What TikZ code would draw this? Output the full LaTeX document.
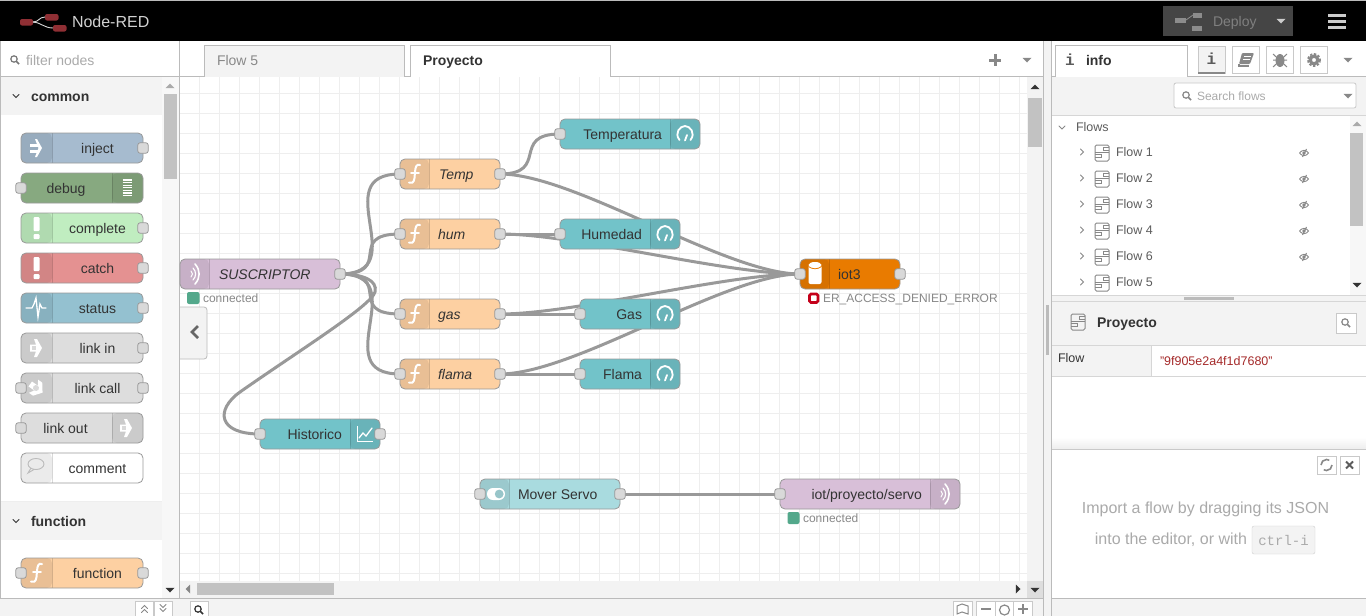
\documentclass[tikz,border=0pt]{standalone}
\usepackage{fontspec}
\setmainfont{Liberation Sans}
\setmonofont{Liberation Mono}
\usetikzlibrary{positioning}
\usetikzlibrary{backgrounds}

\definecolor{panelgrey}{HTML}{F3F3F3}
\definecolor{edgegrey}{HTML}{BBBBBB}
\definecolor{gridgrey}{HTML}{EEEEEE}
\definecolor{wiregrey}{HTML}{999999}
\definecolor{nodeedge}{HTML}{999999}
\definecolor{portgrey}{HTML}{D9D9D9}
\definecolor{thumbgrey}{HTML}{C2C2C2}
\definecolor{mutedtext}{HTML}{AAAAAA}
\definecolor{labeltext}{HTML}{333333}
\definecolor{statustext}{HTML}{888888}
\definecolor{mqttpurple}{HTML}{D8BFD8}
\definecolor{fnorange}{HTML}{FDD0A2}
\definecolor{dashteal}{HTML}{72C3C9}
\definecolor{switchteal}{HTML}{A9DBDF}
\definecolor{dborange}{HTML}{E97B00}
\definecolor{injectblue}{HTML}{A6BBCF}
\definecolor{debuggreen}{HTML}{87A980}
\definecolor{completegreen}{HTML}{C0EDC0}
\definecolor{catchred}{HTML}{E49191}
\definecolor{statusblue}{HTML}{94C1D0}
\definecolor{linkgrey}{HTML}{DDDDDD}
\definecolor{okgreen}{HTML}{53A88B}
\definecolor{errred}{HTML}{C4001A}
\definecolor{logored}{HTML}{8F2F34}
\definecolor{valuered}{HTML}{A52A2A}

\tikzset{
    flownode/.style={draw=nodeedge, rounded corners=5, line width=0.8, inner sep=0,
        outer sep=0, minimum height=30, text=labeltext},
    iconleft/.style={path picture={
        \fill[black, opacity=0.08] (path picture bounding box.north west) rectangle
            ([xshift=#1 pt]path picture bounding box.south west);
        \draw[black, opacity=0.15] ([xshift=#1 pt]path picture bounding box.north west) --
            ([xshift=#1 pt]path picture bounding box.south west);}},
    iconright/.style={path picture={
        \fill[black, opacity=0.08] (path picture bounding box.north east) rectangle
            ([xshift=-#1 pt]path picture bounding box.south east);
        \draw[black, opacity=0.15] ([xshift=-#1 pt]path picture bounding box.north east) --
            ([xshift=-#1 pt]path picture bounding box.south east);}},
    port/.style={draw=nodeedge, fill=portgrey, rounded corners=2.5, line width=0.8,
        inner sep=0, outer sep=0, minimum size=10.5},
    wire/.style={draw=wiregrey, line width=3},
    lab/.style={inner sep=0, outer sep=0, text height=12pt, text depth=2pt, text=labeltext,
        font=\fontsize{14}{16}\selectfont},
    small/.style={lab, text height=10pt, text depth=2pt, font=\fontsize{12}{14}\selectfont},
    muted/.style={text=mutedtext},
    heading/.style={lab, font=\fontsize{14}{16}\selectfont\bfseries},
    gridline/.style={draw=gridgrey, line width=0.8},
    button/.style={draw=edgegrey!80, fill=white, line width=0.8, inner sep=0, minimum height=#1},
    whiteline/.style={draw=white, line width=1.6, line cap=round},
    funcicon/.pic={
        \draw[whiteline, line width=2] (5,-9) .. controls (1,-10) and (0.5,-7) .. (0,-2)
            -- (-0.5,4) .. controls (-1,9) and (-4,10) .. (-6,8.5);
        \draw[whiteline] (-4,-1) -- (4,-1);},
    waveicon/.pic={
        \draw[whiteline, line width=1] (-3,-3) .. controls (-1,-1) and (-1,1) .. (-3,3);
        \draw[whiteline, line width=1.2] (-1,-6) .. controls (2.5,-2) and (2.5,2) .. (-1,6);
        \draw[whiteline] (1,-10) .. controls (6.5,-4) and (6.5,4) .. (1,10);},
    gaugeicon/.pic={
        \draw[whiteline, line width=1.8] (-5.5,6) .. controls (-11,-1) and (-5,-8) .. (0,-8)
            .. controls (5,-8) and (11,-1) .. (5.5,6);
        \draw[whiteline, line width=1.8] (0,6.5) -- (2,1);},
    chartpic/.pic={
        \draw[draw=white, line width=1] (-8,-8) -- (-8,7) -- (8,7);
        \draw[whiteline, line width=1.3] (-6,4) -- (-2,-1) -- (1,2) -- (7,-6);},
    dbicon/.pic={
        \fill[white, rounded corners=2] (-6.5,-8) rectangle (6.5,11);
        \fill[white] (0,-8) ellipse[x radius=6.5, y radius=3];
        \draw[dborange, line width=0.8] (-6.5,-6.5) .. controls (-3,-3.5) and (3,-3.5) .. (6.5,-6.5);},
    toggleicon/.pic={
        \fill[white, rounded corners=5.9] (-9,-6) rectangle (9,6);
        \fill[switchteal!90!black] (3.2,0) circle (4.4);},
    injecticon/.pic={
        \fill[white] (-1,-9) -- (1,-9) -- (6,0) -- (1,9) -- (-1,9) -- (2.5,0) -- cycle;
        \fill[white] (-6,-4.5) rectangle (2,-1.5);
        \fill[white] (-6,1.5) rectangle (2,4.5);},
    debugicon/.pic={
        \foreach \k in {-8,-5.4,...,8.1} \draw[draw=white, line width=1.1] (-4.5,\k) -- (4.5,\k);},
    bangicon/.pic={
        \fill[white, rounded corners=1] (-3,-11) rectangle (3,3);
        \fill[white, rounded corners=1] (-3,6) rectangle (3,11);},
    pulseicon/.pic={
        \draw[whiteline, line width=1.3] (-10,0) -- (-4,0) -- (-2,-4) -- (0,-10) -- (2,9) -- (4,-4)
            -- (6,0) -- (10,0);},
    linkicon/.pic={
        \fill[white] (-2,-9) -- (1,-9) -- (6,0) -- (1,9) -- (-2,9) -- (0,3.5) -- (-6,3.5) -- (-6,-3.5)
            -- (0,-3.5) -- cycle;
        \fill[white!85!black] (-4,-1.8) rectangle (0,1.8);},
    linkcallicon/.pic={
        \fill[white, rotate=-35] (-3,-8) -- (2,-8) -- (8,0) -- (2,8) -- (-3,8) -- (0,3) -- (-7,3)
            -- (-7,-3) -- (0,-3) -- cycle;
        \fill[white!85!black, rotate=-35] (0,0) circle (3);},
    bubbleicon/.pic={
        \draw[draw=edgegrey, line width=0.9] (0,-2) ellipse[x radius=8, y radius=5.5];
        \draw[draw=edgegrey, line width=0.9] (-5,2) -- (-8,7) -- (-2,3.5);},
    caret/.pic={\fill (-4.5,-2.2) -- (4.5,-2.2) -- (0,2.5) -- cycle;},
    chev/.pic={\draw[line width=1, line cap=round] (-3,-1.5) -- (0,1.5) -- (3,-1.5);},
    lens/.pic={
        \draw[line width=1.2] (-1,-1) circle (3.2);
        \draw[line width=1.6] (1.3,1.3) -- (4,4);},
    treeicon/.pic={
        \draw[draw=#1, line width=1, rounded corners=1.5] (-7,-8) rectangle (7,8);
        \draw[draw=#1, line width=0.9] (-7,-1) -- (7,-1);
        \draw[draw=#1, line width=0.9] (1,-6) -- (7,-6) (1,-3) -- (7,-3) (1,-6) -- (1,-3);
        \draw[draw=#1, line width=0.9] (-7,1.5) -- (-1,1.5) -- (-1,4.5) -- (-7,4.5);},
    eyeicon/.pic={
        \draw[draw=statustext, line width=0.9] (-4.5,0) .. controls (-2,-3.5) and (2,-3.5) .. (4.5,0)
            .. controls (2,3.5) and (-2,3.5) .. (-4.5,0);
        \fill[statustext] (0,0) circle (1.8);
        \draw[draw=statustext, line width=1] (2.5,-4) -- (-1.5,4);},
}

\begin{document}
\begin{tikzpicture}[x=1pt, y=-1pt]
    \useasboundingbox (0,0) rectangle (1366,616);
    \begin{scope}[on background layer]
        \fill[white] (0,0) rectangle (1366,616);
        \foreach \x in {199,219,...,1019}
            \draw[gridline] (\x,77) -- (\x,581);
        \foreach \y in {93,113,...,573}
            \draw[gridline] (180,\y) -- (1027,\y);

        \fill[black] (0,0) rectangle (1366,41);
        \fill[edgegrey] (0,0) rectangle (1366,1);
        \fill[logored, rounded corners=2] (20,19) rectangle (33,25.5);
        \fill[logored, rounded corners=2] (45,14) rectangle (58.5,20.5);
        \fill[logored, rounded corners=2] (53,25) rectangle (66.5,31.5);
        \draw[draw=white!85!black, line width=0.9] (33,22) .. controls (39,22) and (39,17) .. (45,17);
        \draw[draw=white!85!black, line width=0.9] (33,22) .. controls (40,22) and (44,28) .. (53,28);
        \fill[white!27!black] (1163,6) rectangle (1293,36);
        \fill[white!55!black] (1175,18) -- (1186,18) -- (1186,23) -- (1175,23) -- cycle;
        \fill[white!55!black] (1193,13) rectangle (1202,18);
        \fill[white!55!black] (1192,26) rectangle (1202,31);
        \draw[draw=white!55!black, line width=0.8] (1186,20) -- (1193,15);
        \foreach \y in {14,20,26}
            \fill[white!80!black] (1328,\y) rectangle (1346,\y+3);

        \fill[panelgrey] (0,77) rectangle (162,115);
        \fill[panelgrey] (0,501) rectangle (162,540);
        \fill[white!97!black] (162,77) rectangle (179,598);
        \fill[thumbgrey] (164,94) rectangle (177,179);
        \draw[draw=gridgrey, line width=0.8] (0,501) -- (162,501);
        \draw[draw=edgegrey, line width=1] (0.5,41) -- (0.5,598);
        \draw[draw=edgegrey, line width=1] (179.5,41) -- (179.5,598);
        \draw[draw=edgegrey, line width=0.8] (0,76.5) -- (204,76.5);

        \draw[draw=edgegrey, fill=panelgrey, line width=0.8] (204,76.5) -- (204,45) -- (404,45) -- (404,76.5);
        \draw[draw=edgegrey, line width=0.8] (404,76.5) -- (410,76.5);
        \draw[draw=edgegrey, fill=white, line width=0.8] (410,76.5) -- (410,45) -- (610,45) -- (610,76.5);
        \draw[draw=edgegrey, line width=0.8] (610,76.5) -- (1043,76.5);
        \fill[statustext] (989,58.5) rectangle (1001,61.5);
        \fill[statustext] (993.5,54) rectangle (996.5,66);

        \fill[panelgrey] (1027,77) rectangle (1043,598);
        \fill[thumbgrey] (1028,98) rectangle (1042,147);
        \fill[panelgrey] (180,581) rectangle (1027,598);
        \fill[thumbgrey] (197,583) rectangle (334,595);
        \fill[white!87!black] (1027,581) rectangle (1043,598);
        \draw[draw=edgegrey, fill=panelgrey, line width=0.8, rounded corners=3]
            (180,307) -- (207,307) -- (207,359) -- (180,359);
        \fill[panelgrey] (0,598) rectangle (1043,616);
        \draw[draw=edgegrey, line width=1] (0,598) -- (1043,598);

        \fill[panelgrey] (1043,41) rectangle (1052,616);
        \fill[edgegrey] (1046,305) rectangle (1048.5,355);
        \draw[draw=edgegrey, line width=1] (1043.5,41) -- (1043.5,616);
        \draw[draw=edgegrey, line width=1] (1051.5,41) -- (1051.5,616);
        \draw[draw=edgegrey, line width=0.8] (1052,76.5) -- (1055,76.5);
        \draw[draw=edgegrey, fill=white, line width=0.8] (1055,76.5) -- (1055,45) -- (1187.5,45) -- (1187.5,76.5);
        \draw[draw=edgegrey, line width=0.8] (1187.5,76.5) -- (1366,76.5);
        \fill[panelgrey] (1052,77) rectangle (1366,115);
        \draw[draw=gridgrey!90!black, line width=0.8] (1052,115.5) -- (1366,115.5);
        \fill[white!97!black] (1350,116) rectangle (1366,295);
        \fill[thumbgrey] (1350,133) rectangle (1363,226);
        \fill[panelgrey] (1052,295) rectangle (1366,345);
        \fill[edgegrey] (1184,297) rectangle (1234,300);
        \draw[draw=gridgrey!90!black, line width=0.8] (1052,295.5) -- (1366,295.5);
        \draw[draw=gridgrey!90!black, line width=0.8] (1052,301.5) -- (1366,301.5);
        \draw[draw=gridgrey!90!black, line width=0.8] (1052,345) -- (1366,345);
        \fill[panelgrey] (1052,345.5) rectangle (1151,376);
        \draw[draw=gridgrey!90!black, line width=0.8] (1151,345) -- (1151,376);
        \draw[draw=gridgrey!90!black, line width=0.8] (1052,376.5) -- (1366,376.5);
        \fill[bottom color=white!93!black, top color=white] (1052,437) rectangle (1366,449);
        \draw[draw=edgegrey!80, line width=0.8] (1052,449.5) -- (1366,449.5);
        \fill[panelgrey] (1052,598) rectangle (1366,616);
        \draw[draw=edgegrey, line width=1] (1052,598) -- (1366,598);
    \end{scope}

    \node[lab, anchor=west, text=white!82!black, font=\fontsize{16}{18}\selectfont] (apptitle) at (72,22) {Node-RED};
    \node[lab, anchor=west, text=white!50!black] (deploytext) at (1213,21) {Deploy};
    \pic[white!80!black] at (1281,21) {caret};

    \pic[mutedtext!70!black] at (15,60) {lens};
    \node[lab, muted, anchor=west] (filtertext) at (26,60) {filter nodes};
    \pic[labeltext] at (16,96) {chev};
    \node[heading, anchor=west] (commonhead) at (31,96) {common};
    \pic[labeltext] at (16,521) {chev};
    \node[heading, anchor=west] (functionhead) at (31,521) {function};
    \pic[mutedtext, rotate=180] at (170,86) {caret};
    \pic[labeltext] at (170,590) {caret};

    \node[flownode, fill=injectblue, iconleft=31, minimum width=122] (palinject) at (82,148) {};
    \node[flownode, fill=debuggreen, iconright=31, minimum width=122] (paldebug) at (82,188) {};
    \node[flownode, fill=completegreen, iconleft=31, minimum width=122] (palcomplete) at (82,228) {};
    \node[flownode, fill=catchred, iconleft=31, minimum width=122] (palcatch) at (82,268) {};
    \node[flownode, fill=statusblue, iconleft=31, minimum width=122] (palstatus) at (82,308) {};
    \node[flownode, fill=linkgrey, iconleft=31, minimum width=122] (pallinkin) at (82,348) {};
    \node[flownode, fill=linkgrey, iconleft=31, minimum width=122] (pallinkcall) at (82,388) {};
    \node[flownode, fill=linkgrey, iconright=31, minimum width=122] (pallinkout) at (82,428) {};
    \node[flownode, fill=white, iconleft=31, minimum width=122] (palcomment) at (82,468) {};
    \node[flownode, fill=fnorange, iconleft=31, minimum width=122] (palfunction) at (82,573) {};

    \foreach \n/\t in {inject/inject, complete/complete, catch/catch, status/status,
                       linkin/link in, linkcall/link call, comment/comment, function/function}
        \node[lab] (\n text) at (97.5,0 |- pal\n) {\t};
    \node[lab] (debugtext) at (66,188) {debug};
    \node[lab] (linkouttext) at (65.5,428) {link out};

    \foreach \n in {inject, complete, catch, status, linkin, linkcall, function}
        \node[port] (pal\n out) at (pal\n.east) {};
    \foreach \n in {debug, linkcall, linkout, function}
        \node[port] (pal\n in) at (pal\n.west) {};

    \pic at (36,148) {injecticon};
    \pic at (127,188) {debugicon};
    \pic at (36.5,228) {bangicon};
    \pic at (36.5,268) {bangicon};
    \pic at (36,308) {pulseicon};
    \pic at (36,348) {linkicon};
    \pic at (36,388) {linkcallicon};
    \pic at (126,428) {linkicon};
    \pic at (36,466) {bubbleicon};
    \pic at (37,573) {funcicon};

    \node[lab, anchor=west, text=statustext] (tabflow) at (217,60) {Flow 5};
    \node[heading, anchor=west, text=labeltext] (tabproyecto) at (423,60) {Proyecto};
    \pic[statustext] at (1027,60) {caret};

    \pic[labeltext, rotate=180] at (1035,87) {caret};
    \pic[labeltext] at (1035,590) {caret};
    \pic[statustext, rotate=-90] at (188,589) {caret};
    \pic[labeltext, rotate=90] at (1018,589) {caret};
    \draw[draw=labeltext!75, line width=2.6] (198,326) -- (192,332) -- (198,338);

    \node[button=15, minimum width=18] (footup) at (144.5,609) {};
    \node[button=15, minimum width=18] (footdown) at (163,609) {};
    \pic[draw=statustext, rotate=180] at (144.5,607) {chev};
    \pic[draw=statustext, rotate=180] at (144.5,611) {chev};
    \pic[draw=statustext] at (163,606) {chev};
    \pic[draw=statustext] at (163,610) {chev};
    \node[button=15, minimum width=18] (footsearch) at (199.5,609) {};
    \pic[draw=labeltext] at (199,610) {lens};
    \node[button=15, minimum width=19] (footmap) at (962.5,609) {};
    \node[button=15, minimum width=19] (footminus) at (986,609) {};
    \node[button=15, minimum width=19] (footfit) at (1004.5,609) {};
    \node[button=15, minimum width=19] (footplus) at (1023,609) {};
    \draw[draw=statustext, line width=1] (957,606) -- (962,604) -- (968,606) -- (968,614) -- (962,612) -- (957,614) -- cycle;
    \draw[draw=statustext, line width=2] (981,609) -- (991,609);
    \draw[draw=statustext, line width=1.2] (1004.5,610) circle (5);
    \draw[draw=statustext, line width=2] (1018,609) -- (1028,609) (1023,604) -- (1023,614);

    \node[flownode, fill=mqttpurple, iconleft=29, minimum width=160] (suscriptor) at (260,274) {};
    \node[flownode, fill=fnorange, iconleft=29, minimum width=100] (temp) at (450,174) {};
    \node[flownode, fill=fnorange, iconleft=29, minimum width=100] (hum) at (450,234) {};
    \node[flownode, fill=fnorange, iconleft=29, minimum width=100] (gas) at (450,314) {};
    \node[flownode, fill=fnorange, iconleft=29, minimum width=100] (flama) at (450,374) {};
    \node[flownode, fill=dashteal, iconright=30, minimum width=140] (temperatura) at (630,134) {};
    \node[flownode, fill=dashteal, iconright=30, minimum width=120] (humedad) at (620,234) {};
    \node[flownode, fill=dashteal, iconright=30, minimum width=100] (gasui) at (630,314) {};
    \node[flownode, fill=dashteal, iconright=30, minimum width=100] (flamaui) at (630,374) {};
    \node[flownode, fill=dborange, iconleft=29, minimum width=100] (iotdb) at (850,274) {};
    \node[flownode, fill=dashteal, iconright=30, minimum width=120] (historico) at (320,434) {};
    \node[flownode, fill=switchteal, iconleft=29, minimum width=140] (moverservo) at (550,494) {};
    \node[flownode, fill=mqttpurple, iconright=30, minimum width=180] (servo) at (870,494) {};

    \node[lab, anchor=west, font=\fontsize{14}{16}\selectfont\itshape] (suscriptortext) at (219,274) {SUSCRIPTOR};
    \node[lab, anchor=west, font=\fontsize{14}{16}\selectfont\itshape] (temptext) at (439,174) {Temp};
    \node[lab, anchor=west, font=\fontsize{14}{16}\selectfont\itshape] (humtext) at (438,234) {hum};
    \node[lab, anchor=west, font=\fontsize{14}{16}\selectfont\itshape] (gastext) at (438,314) {gas};
    \node[lab, anchor=west, font=\fontsize{14}{16}\selectfont\itshape] (flamatext) at (438,374) {flama};
    \node[lab, anchor=east] (temperaturatext) at (662,134) {Temperatura};
    \node[lab, anchor=east] (humedadtext) at (642,234) {Humedad};
    \node[lab, anchor=east] (gasuitext) at (642,314) {Gas};
    \node[lab, anchor=east] (flamauitext) at (642,374) {Flama};
    \node[lab, anchor=west] (iotdbtext) at (838,274) {iot3};
    \node[lab, anchor=east] (historicotext) at (342,434) {Historico};
    \node[lab, anchor=west] (moverservotext) at (518,494) {Mover Servo};
    \node[lab, anchor=east] (servotext) at (922,494) {iot/proyecto/servo};

    \pic at (194,274) {waveicon};
    \foreach \y in {174,234,314,374}
        \pic at (415,\y) {funcicon};
    \pic at (685,134) {gaugeicon};
    \pic at (665,234) {gaugeicon};
    \pic at (665,314) {gaugeicon};
    \pic at (665,374) {gaugeicon};
    \pic at (815,273) {dbicon};
    \pic at (365,434) {chartpic};
    \pic at (496,494) {toggleicon};
    \pic at (944,494) {waveicon};

    \node[port] (suscriptorout) at (suscriptor.east) {};
    \node[port] (tempin) at (temp.west) {};
    \node[port] (tempout) at (temp.east) {};
    \node[port] (humin) at (hum.west) {};
    \node[port] (humout) at (hum.east) {};
    \node[port] (gasin) at (gas.west) {};
    \node[port] (gasout) at (gas.east) {};
    \node[port] (flamain) at (flama.west) {};
    \node[port] (flamaout) at (flama.east) {};
    \node[port] (temperaturain) at (temperatura.west) {};
    \node[port] (humedadin) at (humedad.west) {};
    \node[port] (gasuiin) at (gasui.west) {};
    \node[port] (flamauiin) at (flamaui.west) {};
    \node[port] (iotdbin) at (iotdb.west) {};
    \node[port] (iotdbout) at (iotdb.east) {};
    \node[port] (historicoin) at (historico.west) {};
    \node[port] (historicoout) at (historico.east) {};
    \node[port] (moverservoin) at (moverservo.west) {};
    \node[port] (moverservoout) at (moverservo.east) {};
    \node[port] (servoin) at (servo.west) {};

    \fill[okgreen, rounded corners=2] (187,292) rectangle (199.5,304);
    \node[small, anchor=west, text=statustext] (susstatus) at (203,298) {connected};
    \draw[draw=errred, fill=white, line width=2.6, rounded corners=1.5] (809.5,294) rectangle (818,302.5);
    \node[small, anchor=west, text=statustext] (dbstatus) at (823,298) {ER\_ACCESS\_DENIED\_ERROR};
    \fill[okgreen, rounded corners=2] (787.5,512) rectangle (799.5,524);
    \node[small, anchor=west, text=statustext] (servostatus) at (803,518) {connected};

    \begin{scope}[on background layer]
        \draw[wire] (suscriptorout.center) .. controls +(75,0) and +(-75,0) .. (tempin.center);
        \draw[wire] (suscriptorout.center) .. controls +(55,0) and +(-55,0) .. (humin.center);
        \draw[wire] (suscriptorout.center) .. controls +(55,0) and +(-55,0) .. (gasin.center);
        \draw[wire] (suscriptorout.center) .. controls +(75,0) and +(-75,0) .. (flamain.center);
        \draw[wire] (suscriptorout.center) .. controls (362,274) and (378,280) .. (375,292)
            .. controls (371,306) and (300,350) .. (240,392)
            .. controls (215,410) and (218,434) .. (historicoin.center);
        \draw[wire] (tempout.center) .. controls +(50,0) and +(-50,0) .. (temperaturain.center);
        \draw[wire] (tempout.center) .. controls +(75,0) and +(-75,0) .. (iotdbin.center);
        \draw[wire] (humout.center) -- (humedadin.center);
        \draw[wire] (humout.center) .. controls +(75,0) and +(-75,0) .. (iotdbin.center);
        \draw[wire] (gasout.center) -- (gasuiin.center);
        \draw[wire] (gasout.center) .. controls +(75,0) and +(-75,0) .. (iotdbin.center);
        \draw[wire] (flamaout.center) -- (flamauiin.center);
        \draw[wire] (flamaout.center) .. controls +(75,0) and +(-75,0) .. (iotdbin.center);
        \draw[wire] (moverservoout.center) -- (servoin.center);
    \end{scope}

    \node[heading, anchor=west, font=\fontsize{14}{16}\selectfont\bfseries] (tabinfo) at (1086,60) {info};
    \node[lab, font=\fontsize{16}{16}\selectfont\bfseries\ttfamily, text=labeltext!80] (tabi) at (1070,60) {i};
    \node[button=27, minimum width=27, fill=panelgrey] (btninfo) at (1211.5,59.5) {};
    \node[button=27, minimum width=27] (btnbook) at (1246,59.5) {};
    \node[button=27, minimum width=27] (btnbug) at (1280,59.5) {};
    \node[button=27, minimum width=27] (btngear) at (1314,59.5) {};
    \draw[draw=statustext, line width=1.6] (1198,73) -- (1225,73);
    \node[lab, font=\fontsize{16}{16}\selectfont\bfseries\ttfamily, text=labeltext!80] (btninfotext) at (btninfo) {i};
    \fill[statustext, rounded corners=1] (1242,53) -- (1254,53) -- (1250,64) -- (1239,64) -- cycle;
    \draw[draw=white, line width=0.7] (1244,56) -- (1251,56) (1243,59) -- (1250,59);
    \draw[draw=statustext, line width=1.4] (1239,64) -- (1239,66) -- (1249,66);
    \fill[statustext] (1280,60.5) ellipse[x radius=4.5, y radius=6.5];
    \draw[draw=statustext, line width=1] (1273,54) -- (1287,67) (1287,54) -- (1273,67) (1273,60) -- (1287,60);
    \draw[draw=statustext, line width=3.2] (1314,60) circle (3.8);
    \draw[draw=statustext, line width=1.8, dash pattern=on 2.4 off 1.6] (1314,60) circle (6);
    \pic[statustext] at (1348,60) {caret};

    \node[button=25, minimum width=182, rounded corners=2] (searchbox) at (1265,95.5) {};
    \pic[draw=statustext] at (1187,96) {lens};
    \node[small, muted, anchor=west] (searchtext) at (1197,96) {Search flows};
    \pic[statustext] at (1348,96) {caret};

    \pic[draw=statustext] at (1062,127.5) {chev};
    \node[small, anchor=west, text=labeltext!80, font=\fontsize{12.5}{14}\selectfont] (flowsroot) at (1076,127) {Flows};
    \foreach \y/\n in {152/1,178/2,204/3,230/4,256/6,282/5} {
        \pic[draw=statustext, rotate=90] at (1082,\y) {chev};
        \pic at (1102,\y+1) {treeicon=statustext};
        \node[small, anchor=west, text=labeltext!80, font=\fontsize{12.5}{14}\selectfont] (flow\n) at (1116,\y) {Flow \n};
    }
    \foreach \y in {152,178,204,230,256}
        \pic at (1304,\y+1) {eyeicon};
    \pic[mutedtext, rotate=180] at (1357,124) {caret};
    \pic[labeltext] at (1357,285) {caret};

    \pic at (1078,322) {treeicon=statustext};
    \node[heading, anchor=west] (infotitle) at (1097,322) {Proyecto};
    \node[button=20, minimum width=20] (btnreveal) at (1346,323) {};
    \pic[draw=statustext] at (1346,323) {lens};
    \node[small, anchor=west, font=\fontsize{12.5}{14}\selectfont] (flowkey) at (1058,358) {Flow};
    \node[small, anchor=west, text=valuered, font=\fontsize{12.5}{14}\selectfont] (flowvalue) at (1160,361) {"9f905e2a4f1d7680"};

    \node[button=18, minimum width=19] (btnrefresh) at (1326.5,465) {};
    \node[button=18, minimum width=19] (btnclose) at (1349.5,465) {};
    \draw[draw=statustext, line width=1.6] (1321,465) arc[start angle=180, end angle=300, radius=5.5];
    \draw[draw=statustext, line width=1.6] (1332,465) arc[start angle=0, end angle=120, radius=5.5];
    \draw[draw=labeltext!80, line width=2] (1346,461.5) -- (1353,468.5) (1353,461.5) -- (1346,468.5);
    \node[lab, muted, font=\fontsize{16}{18}\selectfont] (helpone) at (1205.5,508) {Import a flow by dragging its JSON};
    \node[lab, muted, anchor=east, font=\fontsize{16}{18}\selectfont] (helptwo) at (1247,539) {into the editor, or with};
    \node[draw=edgegrey!70, fill=panelgrey, rounded corners=2, inner sep=0, minimum width=63, minimum height=28,
        text=mutedtext, font=\fontsize{14}{16}\selectfont\ttfamily] (ctrlkey) at (1283.5,540) {ctrl-i};
\end{tikzpicture}
\end{document}
